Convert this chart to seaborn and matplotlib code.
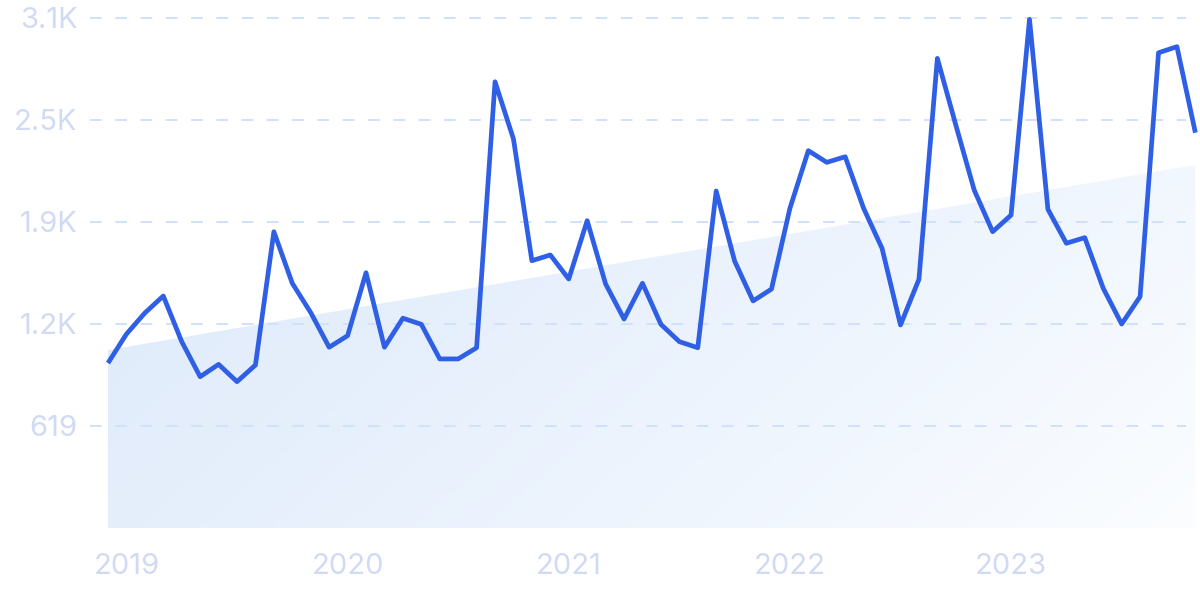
import numpy as np
import pandas as pd
import matplotlib
matplotlib.use("Agg")
import matplotlib.pyplot as plt
import seaborn as sns
from matplotlib.colors import LinearSegmentedColormap

# ---- data ----
values = [1001, 1177, 1305, 1408, 1131, 918, 993, 888, 989, 1798,
          1485, 1307, 1097, 1167, 1549, 1097, 1273, 1236, 1026, 1026,
          1094, 2708, 2361, 1622, 1657, 1511, 1865, 1481, 1268, 1485,
          1236, 1131, 1094, 2045, 1620, 1378, 1450, 1940, 2290, 2219,
          2253, 1940, 1697, 1232, 1509, 2850, 2446, 2051, 1798, 1899,
          3087, 1934, 1728, 1762, 1455, 1238, 1404, 2884, 2921, 2399]
month_index = list(range(len(values)))
trend_start = 1080
trend_end = 2203
year_labels = ["2019", "2020", "2021", "2022", "2023"]
year_tick_index = [1, 13, 25, 37, 49]
y_ticks = [619, 1238, 1857, 2476, 3095]
y_tick_labels = ["619", "1.2K", "1.9K", "2.5K", "3.1K"]

df = pd.DataFrame({"month": month_index, "value": values})

sns.set_theme(style="white")
plt.rcParams['font.family'] = ['Inter', 'DejaVu Sans']

W, H = 1200, 599
fig = plt.figure(figsize=(W / 100, H / 100), dpi=100)
left_px, right_px, top_px, bottom_px = 90, 1200, 5, 528
ax = fig.add_axes([left_px / W, (H - bottom_px) / H,
                   (right_px - left_px) / W, (bottom_px - top_px) / H])

px_per_month = 18.43
x0 = 108
ax.set_xlim((left_px - x0) / px_per_month, (right_px - x0) / px_per_month)
ax.set_ylim(0, (bottom_px - top_px) / 102 * 619)

# gradient fill under trend
poly_x = [month_index[0], month_index[-1], month_index[-1], month_index[0]]
poly_y = [trend_start, trend_end, 0, 0]
poly = ax.fill(poly_x, poly_y, facecolor="none", edgecolor="none")[0]
cmap = LinearSegmentedColormap.from_list("g", ["#deebfb", "#e6effc", "#f0f6fe", "#fbfdff"])
gx, gy = np.meshgrid(np.linspace(0, 1, 300), np.linspace(0, 1, 200))
grad = (gx * 0.8 + gy * 0.3)
grad = grad / grad.max()
im = ax.imshow(grad, cmap=cmap, aspect="auto", origin="upper",
               extent=[month_index[0], month_index[-1], 0, max(trend_start, trend_end)],
               zorder=1, vmin=0, vmax=1)
im.set_clip_path(poly)

# gridlines
for yt in y_ticks:
    ax.axhline(yt, xmin=0, xmax=(1186 - left_px) / (right_px - left_px),
               color="#d0e1fb", lw=1.4, dashes=(6, 7), zorder=2)

sns.lineplot(data=df, x="month", y="value", ax=ax, color="#2f5fe4",
             linewidth=3.4, zorder=3)
for l in ax.lines[-1:]:
    l.set_solid_joinstyle("round")
    l.set_solid_capstyle("butt")

ax.set_yticks(y_ticks)
ax.set_yticklabels(y_tick_labels)
ax.set_xticks(year_tick_index)
ax.set_xticklabels(year_labels)
ax.tick_params(axis="y", length=0, pad=9, labelsize=21, labelcolor="#d0daf4")
ax.tick_params(axis="x", length=0, pad=18, labelsize=21, labelcolor="#d0daf4")
ax.set_xlabel("")
ax.set_ylabel("")
for s in ax.spines.values():
    s.set_visible(False)
ax.grid(False)

fig.savefig("out.png", dpi=100)
